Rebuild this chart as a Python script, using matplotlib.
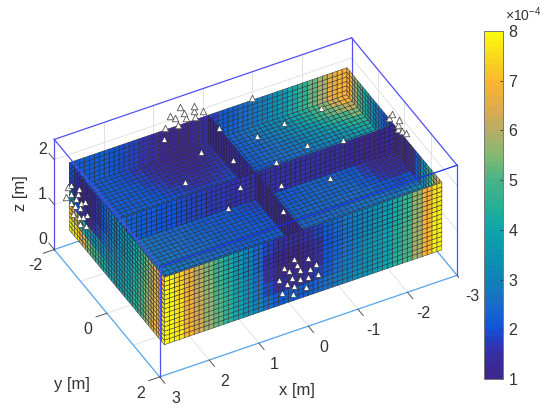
import numpy as np
import matplotlib
matplotlib.use('Agg')
import matplotlib.pyplot as plt
import matplotlib.colors as mcolors
from matplotlib.cm import ScalarMappable
from mpl_toolkits.mplot3d import proj3d
from mpl_toolkits.mplot3d.art3d import Poly3DCollection

plt.rcParams['font.family'] = ['Liberation Sans', 'DejaVu Sans']
plt.rcParams['mathtext.default'] = 'regular'

# colour scale, in units of 1e-4
cbar_ticks = [1, 2, 3, 4, 5, 6, 7, 8]
scale_values = [1, 1.6, 2, 2.5, 3, 4, 4.5, 5, 5.5, 6, 6.5, 7, 7.5, 8]
scale_colors = [(62, 38, 140), (50, 50, 175), (15, 85, 215), (25, 110, 200), (15, 130, 185),
                (15, 165, 170), (40, 175, 150), (70, 180, 135), (130, 185, 115), (180, 175, 100),
                (225, 170, 75), (252, 180, 50), (250, 215, 30), (250, 250, 15)]

# sunken floors, 0.2 m blocks, rows go with y and columns with x
floor_back = [
    [6.8, 6.2, 5.5, 4.9, 4.4, 3.9, 3.5, 3.2, 3.0, 2.8, 2.6, 2.4, 2.2, 2.0],
    [6.1, 5.7, 5.2, 4.7, 4.2, 3.8, 3.4, 3.1, 2.9, 2.7, 2.5, 2.3, 2.1, 2.0],
    [5.4, 5.0, 4.6, 4.2, 3.8, 3.5, 3.2, 3.0, 2.8, 2.6, 2.4, 2.3, 2.2, 2.1],
    [4.7, 4.4, 4.1, 3.8, 3.5, 3.2, 3.0, 2.8, 2.7, 2.5, 2.4, 2.3, 2.2, 2.1],
    [4.2, 4.0, 3.7, 3.4, 3.2, 3.0, 2.8, 2.7, 2.6, 2.5, 2.4, 2.3, 2.2, 2.1],
    [3.8, 3.6, 3.3, 3.1, 2.9, 2.8, 2.7, 2.6, 2.5, 2.4, 2.3, 2.2, 2.2, 2.1],
    [3.4, 3.2, 3.0, 2.8, 2.7, 2.6, 2.5, 2.5, 2.4, 2.3, 2.3, 2.2, 2.1, 2.0],
    [3.0, 2.9, 2.7, 2.6, 2.5, 2.5, 2.4, 2.4, 2.3, 2.3, 2.2, 2.1, 2.0, 1.9],
    [2.8, 2.7, 2.6, 2.5, 2.4, 2.4, 2.3, 2.3, 2.2, 2.2, 2.1, 2.0, 1.9, 1.8]]
floor_left = [
    [1.4, 1.2, 1.1, 1.1, 1.2, 1.3, 1.5, 1.7, 1.9, 2.0, 2.1, 2.1, 2.1, 2.1],
    [1.5, 1.3, 1.2, 1.2, 1.3, 1.4, 1.6, 1.8, 1.9, 2.0, 2.1, 2.1, 2.1, 2.1],
    [1.6, 1.4, 1.3, 1.3, 1.4, 1.5, 1.7, 1.8, 2.0, 2.1, 2.1, 2.1, 2.1, 2.1],
    [1.7, 1.6, 1.5, 1.5, 1.5, 1.6, 1.8, 1.9, 2.0, 2.1, 2.2, 2.2, 2.2, 2.1],
    [1.8, 1.7, 1.6, 1.6, 1.7, 1.8, 1.9, 2.0, 2.1, 2.2, 2.2, 2.2, 2.2, 2.2],
    [1.9, 1.8, 1.8, 1.8, 1.8, 1.9, 2.0, 2.1, 2.2, 2.2, 2.3, 2.3, 2.3, 2.3],
    [2.0, 1.9, 1.9, 1.9, 2.0, 2.0, 2.1, 2.2, 2.3, 2.3, 2.4, 2.4, 2.4, 2.4],
    [2.0, 2.0, 2.0, 2.0, 2.1, 2.1, 2.2, 2.3, 2.3, 2.4, 2.5, 2.5, 2.6, 2.6],
    [2.0, 2.0, 2.1, 2.1, 2.1, 2.2, 2.3, 2.3, 2.4, 2.5, 2.6, 2.7, 2.8, 3.0]]
floor_right = [
    [1.2, 1.2, 1.4, 1.7, 2.0, 2.2, 2.3, 2.3, 2.3, 2.3, 2.2, 2.1, 2.0, 1.8],
    [1.3, 1.3, 1.5, 1.8, 2.1, 2.3, 2.4, 2.4, 2.4, 2.3, 2.3, 2.2, 2.1, 2.0],
    [1.5, 1.5, 1.7, 2.0, 2.2, 2.4, 2.4, 2.4, 2.4, 2.4, 2.3, 2.3, 2.2, 2.1],
    [2.0, 1.9, 2.0, 2.2, 2.4, 2.5, 2.5, 2.5, 2.4, 2.4, 2.4, 2.3, 2.3, 2.2],
    [2.6, 2.4, 2.4, 2.5, 2.6, 2.6, 2.6, 2.5, 2.5, 2.4, 2.4, 2.4, 2.4, 2.3],
    [3.2, 2.9, 2.8, 2.8, 2.7, 2.7, 2.6, 2.6, 2.5, 2.5, 2.5, 2.4, 2.4, 2.4],
    [4.0, 3.5, 3.2, 3.0, 2.9, 2.8, 2.7, 2.7, 2.6, 2.6, 2.5, 2.5, 2.5, 2.4],
    [5.0, 4.2, 3.6, 3.3, 3.1, 3.0, 2.9, 2.8, 2.7, 2.6, 2.6, 2.5, 2.5, 2.5],
    [6.3, 5.0, 4.2, 3.7, 3.3, 3.1, 3.0, 2.9, 2.8, 2.7, 2.6, 2.6, 2.5, 2.5]]
floor_front = [
    [1.8, 1.9, 2.0, 2.1, 2.1, 2.2, 2.3, 2.4, 2.4, 2.5, 2.6, 2.7, 2.8, 3.0],
    [1.9, 2.0, 2.0, 2.1, 2.2, 2.3, 2.3, 2.4, 2.5, 2.5, 2.6, 2.7, 2.8, 3.0],
    [2.0, 2.0, 2.1, 2.2, 2.2, 2.3, 2.4, 2.4, 2.5, 2.6, 2.6, 2.7, 2.8, 3.0],
    [2.0, 2.1, 2.1, 2.2, 2.3, 2.3, 2.4, 2.5, 2.5, 2.6, 2.7, 2.7, 2.8, 3.0],
    [2.1, 2.1, 2.2, 2.2, 2.3, 2.4, 2.4, 2.5, 2.6, 2.6, 2.7, 2.8, 2.9, 3.0],
    [2.1, 2.2, 2.2, 2.3, 2.3, 2.4, 2.5, 2.5, 2.6, 2.7, 2.7, 2.8, 2.9, 3.1],
    [2.2, 2.2, 2.3, 2.3, 2.4, 2.4, 2.5, 2.6, 2.6, 2.7, 2.8, 2.9, 3.0, 3.2],
    [2.2, 2.3, 2.3, 2.4, 2.4, 2.5, 2.6, 2.6, 2.7, 2.8, 2.9, 3.0, 3.1, 3.3],
    [2.3, 2.3, 2.4, 2.4, 2.5, 2.6, 2.6, 2.7, 2.8, 2.9, 3.0, 3.1, 3.2, 3.4]]

# inner walls, one value per 0.2 m along the wall
wall_back = [7.0, 6.6, 5.9, 5.2, 4.6, 4.1, 3.6, 3.2, 2.9, 2.7, 2.5, 2.3, 2.1, 1.8,
             1.4, 1.2, 1.1, 1.1, 1.2, 1.4, 1.6, 1.8, 1.9, 2.0, 2.1, 2.1, 2.1, 2.0]
wall_right = [6.9, 5.9, 5.0, 4.2, 3.5, 3.0, 2.4, 1.9, 1.4, 1.1, 1.0, 1.1, 1.4, 2.2, 3.2, 4.3, 5.5, 7.0]
wall_mid_y = [1.2, 1.1, 1.1, 1.2, 1.3, 1.4, 1.4, 1.5, 1.5, 1.5, 1.5, 1.5, 1.5, 1.4,
              1.5, 1.6, 1.6, 1.7, 1.7, 1.8, 1.8, 1.9, 2.0, 2.0, 2.1, 2.2, 2.3, 2.5]
wall_mid_x = [1.2, 1.2, 1.2, 1.2, 1.3, 1.3, 1.3, 1.3, 1.3, 1.2, 1.2, 1.2, 1.2, 1.2, 1.2, 1.2, 1.1, 1.1]

# outer faces, 0.2 m along the face and 0.3 m up, bottom row first
outer_front = [
    [8.0, 7.7, 7.0, 6.4, 5.8, 5.2, 4.6, 4.0, 3.5, 3.0, 2.5, 2.2, 2.1, 2.1, 2.2, 2.4, 2.6, 2.8, 3.0, 3.2, 3.4, 3.7, 4.0, 4.4, 5.0, 5.9, 7.0, 7.8],
    [8.0, 7.6, 6.9, 6.3, 5.7, 5.1, 4.5, 3.9, 3.3, 2.7, 1.9, 1.5, 1.4, 1.4, 1.5, 1.8, 2.2, 2.5, 2.8, 3.0, 3.3, 3.6, 3.9, 4.3, 5.0, 5.8, 7.0, 7.8],
    [8.0, 7.6, 6.8, 6.2, 5.6, 5.0, 4.4, 3.8, 3.2, 2.5, 1.6, 1.2, 1.1, 1.1, 1.2, 1.5, 2.0, 2.3, 2.6, 2.9, 3.2, 3.6, 3.9, 4.3, 5.0, 5.8, 7.0, 7.8],
    [7.9, 7.5, 6.8, 6.1, 5.5, 4.9, 4.3, 3.7, 3.1, 2.4, 1.6, 1.2, 1.1, 1.1, 1.2, 1.5, 2.0, 2.3, 2.6, 2.9, 3.1, 3.5, 3.8, 4.2, 4.9, 5.7, 6.9, 7.7],
    [7.8, 7.4, 6.7, 6.0, 5.4, 4.8, 4.2, 3.6, 3.0, 2.4, 1.8, 1.5, 1.4, 1.4, 1.5, 1.8, 2.1, 2.4, 2.7, 2.9, 3.1, 3.4, 3.8, 4.2, 4.8, 5.6, 6.8, 7.6]]
outer_left = [
    [8.0, 7.5, 6.5, 5.5, 5.0, 4.5, 4.2, 4.0, 3.8, 3.8, 4.0, 4.2, 4.5, 5.0, 5.6, 6.3, 7.0, 7.8],
    [7.0, 6.0, 4.5, 3.8, 3.5, 3.3, 3.2, 3.3, 3.4, 3.6, 3.8, 4.1, 4.4, 4.9, 5.5, 6.2, 6.9, 7.6],
    [3.0, 2.0, 1.4, 1.2, 1.4, 1.8, 2.4, 2.8, 3.1, 3.4, 3.7, 4.0, 4.3, 4.8, 5.4, 6.1, 6.8, 7.4],
    [1.8, 1.3, 1.1, 1.1, 1.2, 1.5, 2.0, 2.5, 3.0, 3.3, 3.6, 3.9, 4.2, 4.7, 5.3, 6.0, 6.7, 7.2],
    [2.0, 1.6, 1.3, 1.2, 1.3, 1.6, 2.1, 2.6, 3.0, 3.2, 3.5, 3.8, 4.1, 4.6, 5.2, 5.9, 6.5, 7.0]]

# sensors on the front face, y = 1.8
front_x = [0.19, -0.10, -0.27, 0.12, 0.39, 0.28, 0.07, -0.13, -0.30, -0.10, 0.06, 0.22, 0.48, 0.33, 0.18, -0.05, 0.42, 0.20]
front_z = [1.43, 1.33, 1.13, 1.26, 1.30, 1.20, 1.13, 1.08, 0.90, 0.92, 0.94, 1.01, 1.06, 0.91, 0.81, 0.71, 0.76, 0.65]
# sensors on the left face, x = 2.8
left_y = [-1.73, -1.43, -1.48, -1.73, -1.54, -1.20, -1.35, -1.74, -1.58, -1.39, -1.68, -1.13, -1.43, -1.29, -1.39, -1.18]
left_z = [1.56, 1.67, 1.52, 1.35, 1.37, 1.55, 1.43, 1.14, 1.18, 1.27, 0.94, 1.30, 1.06, 1.15, 0.92, 1.02]
# sensors on the floors and the back wall
top_x = [0.90, -0.21, 0.24, -0.16, 0.88, 0.08, 0.55, -2.21, -1.44, -0.85, -1.53, -2.15, -0.81, -0.59, -1.45, -0.27]
top_y = [-1.80, -1.80, -1.61, -1.16, -1.03, -0.44, -0.03, -1.69, -1.64, -1.53, -0.91, -0.71, -0.75, -0.15, 0.11, 0.52]
top_z = [1.80, 1.64, 1.40, 1.40, 1.40, 1.40, 1.40, 1.40, 1.40, 1.40, 1.40, 1.40, 1.40, 1.40, 1.40, 1.40]
# hidden sensors, drawn open
hidden_x = [0.55, 0.26, 0.25, 0.08, 0.47, 0.75, 0.65, 0.43, 0.23, 0.58, 0.84, -0.92,
            -2.85, -2.85, -2.85, -2.85, -2.85, -2.85, -2.85, 2.80, 2.80]
hidden_y = [-1.85, -1.85, -1.85, -1.85, -1.85, -1.85, -1.85, -1.85, -1.85, -1.85, -1.85, -1.85,
            -0.19, -0.29, 0.09, 0.03, 0.19, 0.05, 0.34, -1.87, -1.92]
hidden_z = [2.35, 2.26, 2.16, 2.08, 2.20, 2.24, 2.14, 2.06, 2.02, 1.96, 1.99, 2.00,
            2.09, 1.93, 2.16, 2.00, 1.99, 1.92, 2.05, 1.40, 1.14]

x_ticks = [3, 2, 1, 0, -1, -2, -3]
y_ticks = [-2, 0, 2]
z_ticks = [0, 1, 2]
xlim = (-3, 3)
ylim = (-2, 2)
zlim = (0, 2.45)

cmap = mcolors.LinearSegmentedColormap.from_list(
    'parula_like', [((v - 1) / 7, np.array(c) / 255) for v, c in zip(scale_values, scale_colors)], N=64)
norm = mcolors.Normalize(1, 8)

polys = []
cell_vals = []


def add_face(axis, level, u_edges, v_edges, table):
    # table rows follow v, columns follow u; a value covers several 0.1 m cells
    table = np.atleast_2d(table)
    nu, nv = len(u_edges) - 1, len(v_edges) - 1
    for i in range(nu):
        for j in range(nv):
            val = table[j * table.shape[0] // nv, i * table.shape[1] // nu]
            corners = [(u_edges[i], v_edges[j]), (u_edges[i + 1], v_edges[j]),
                       (u_edges[i + 1], v_edges[j + 1]), (u_edges[i], v_edges[j + 1])]
            if axis == 'x':
                polys.append([(level, u, v) for u, v in corners])
            elif axis == 'y':
                polys.append([(u, level, v) for u, v in corners])
            else:
                polys.append([(u, v, level) for u, v in corners])
            cell_vals.append(val)


def edges(a, b, n):
    return np.linspace(a, b, n + 1)


top, floor, bottom = 2.0, 1.4, 0.5
add_face('z', floor, edges(-2.8, 0, 28), edges(-1.8, 0, 18), floor_back)
add_face('z', floor, edges(0, 2.8, 28), edges(-1.8, 0, 18), floor_left)
add_face('z', floor, edges(-2.8, 0, 28), edges(0, 1.8, 18), floor_right)
add_face('z', floor, edges(0, 2.8, 28), edges(0, 1.8, 18), floor_front)
add_face('y', -1.8, edges(-2.8, 2.8, 56), edges(floor, top, 6), wall_back)
add_face('x', -2.8, edges(-1.8, 1.8, 36), edges(floor, top, 6), wall_right)
add_face('y', 0, edges(-2.8, 2.8, 56), edges(floor, top, 6), wall_mid_y)
add_face('x', 0, edges(-1.8, 1.8, 36), edges(floor, top, 6), wall_mid_x)
add_face('y', 1.8, edges(2.8, -2.8, 56), edges(bottom, top, 15), outer_front)
add_face('x', 2.8, edges(-1.8, 1.8, 36), edges(bottom, top, 15), outer_left)

fig = plt.figure(figsize=(5.5, 4.12), dpi=100)
side = 417
ax = fig.add_axes([(250 - side / 2) / 550, (412 - 213 - side / 2) / 412, side / 550, side / 412],
                  projection='3d', proj_type='ortho', computed_zorder=False)
ax.view_init(elev=40, azim=62)
ax.set_xlim(*xlim, view_margin=0)
ax.set_ylim(*ylim, view_margin=0)
ax.set_zlim(*zlim, view_margin=0)
ax.set_box_aspect((6, 4, 2.45 * 1.045))
ax.set_axis_off()


def label3d(x, y, z, s, fontsize):
    # 3D position to the axes' 2D view coordinates
    u, v, _ = proj3d.proj_transform(x, y, z, ax.get_proj())
    ax.text2D(u, v, s, transform=ax.transData, color=label_c, fontsize=fontsize,
              ha='center', va='center', clip_on=False)


grid_c = '#e2e2e2'
for x in x_ticks:
    ax.plot([x, x], [-2, 2], [0, 0], color=grid_c, lw=0.7, zorder=1)
    ax.plot([x, x], [-2, -2], list(zlim), color=grid_c, lw=0.7, zorder=1)
for y in [-2, -1, 0, 1, 2]:
    ax.plot([-3, 3], [y, y], [0, 0], color=grid_c, lw=0.7, zorder=1)
    ax.plot([-3, -3], [y, y], list(zlim), color=grid_c, lw=0.7, zorder=1)
for z in z_ticks:
    ax.plot([-3, 3], [-2, -2], [z, z], color=grid_c, lw=0.7, zorder=1)
    ax.plot([-3, -3], [-2, 2], [z, z], color=grid_c, lw=0.7, zorder=1)

axis_c = '#5aa9ee'
box_c = '#5050f5'
ztop = zlim[1]
# lines behind the block
ax.plot([3, -3], [-2, -2], [0, 0], color=axis_c, lw=0.9, zorder=1.5)
ax.plot([-3, -3], [-2, 2], [0, 0], color=axis_c, lw=0.9, zorder=1.5)
ax.plot([-3, -3], [-2, -2], [0, ztop], color=box_c, lw=0.9, zorder=1.5)

mesh = Poly3DCollection(polys, facecolors=cmap(norm(np.array(cell_vals))), edgecolors='#26262e',
                        linewidths=0.32, zsort='average', zorder=2)
ax.add_collection3d(mesh, autolim=False)

# lines in front of the block
ax.plot([3, 3], [-2, 2], [0, 0], color=axis_c, lw=0.9, zorder=3)
ax.plot([3, -3], [2, 2], [0, 0], color=axis_c, lw=0.9, zorder=3)
for px, py in [(3, -2), (3, 2), (-3, 2)]:
    ax.plot([px, px], [py, py], [0, ztop], color=box_c, lw=0.9, zorder=3)
ax.plot([3, -3], [-2, -2], [ztop, ztop], color=box_c, lw=0.9, zorder=3)
ax.plot([-3, -3], [-2, 2], [ztop, ztop], color=box_c, lw=0.9, zorder=3)
ax.plot([3, 3], [-2, 2], [ztop, ztop], color=box_c, lw=0.9, zorder=3)
ax.plot([3, -3], [2, 2], [ztop, ztop], color='#1a2fe0', lw=0.9, zorder=3)

tick_c = '#555555'
label_c = '#333333'
fs = 11.5
for x in x_ticks:
    ax.plot([x, x], [2, 2.2], [0, 0], color=tick_c, lw=0.7, zorder=3)
    label3d(x, 2.6, -0.05, str(x), fs)
for y in y_ticks:
    ax.plot([3, 3.22], [y, y], [0, 0], color=tick_c, lw=0.7, zorder=3)
    label3d(3.38, y, -0.22, str(y), fs)
for z in z_ticks:
    ax.plot([3, 3], [-2, -2.2], [z, z], color=tick_c, lw=0.7, zorder=3)
    label3d(3, -2.45, z - 0.1, str(z), fs)

ax.scatter(hidden_x, hidden_y, hidden_z, marker='^', s=22, facecolors='white', edgecolors='#555555',
           linewidths=0.6, depthshade=False, zorder=4)
ax.scatter(front_x, [1.8] * len(front_x), front_z, marker='^', s=16, c='white', edgecolors='#222222',
           linewidths=0.3, depthshade=False, zorder=5)
ax.scatter([2.8] * len(left_y), left_y, left_z, marker='^', s=16, c='white', edgecolors='#222222',
           linewidths=0.3, depthshade=False, zorder=5)
ax.scatter(top_x, top_y, top_z, marker='^', s=16, c='white', edgecolors='#222222',
           linewidths=0.3, depthshade=False, zorder=5)

fig.text(297 / 550, 1 - 391 / 412, 'x [m]', color=label_c, fontsize=12, ha='center', va='center')
fig.text(72 / 550, 1 - 385 / 412, 'y [m]', color=label_c, fontsize=12, ha='center', va='center')
fig.text(20 / 550, 1 - 193 / 412, 'z [m]', color=label_c, fontsize=12, ha='center', va='center', rotation=90)

cax = fig.add_axes([484.3 / 550, (412 - 379) / 412, 18.4 / 550, 348 / 412])
cb = fig.colorbar(ScalarMappable(norm=norm, cmap=cmap), cax=cax, ticks=cbar_ticks)
cb.ax.tick_params(direction='in', length=2.5, width=0.6, color='#333333', labelcolor=label_c,
                  labelsize=fs, pad=4)
cb.outline.set_edgecolor('#777777')
cb.outline.set_linewidth(0.7)
fig.text(505 / 550, 1 - 15 / 412, '×10$^{-4}$', color=label_c, fontsize=10, ha='left', va='center')

fig.savefig('out.png', dpi=100)
